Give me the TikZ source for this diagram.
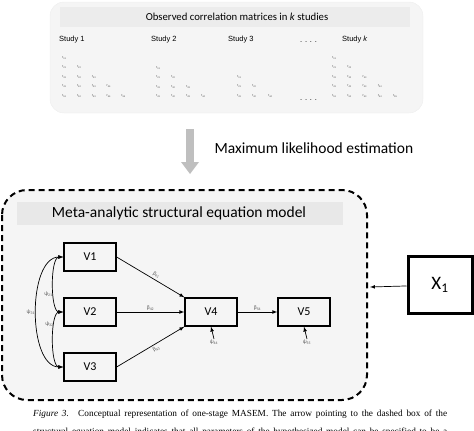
\documentclass[tikz,border=0pt]{standalone}
\usepackage{fontspec}
\setmainfont{Carlito}
\newfontfamily\arialfont{Liberation Sans}
\newfontfamily\timesfont{Liberation Serif}

\tikzset{
varbox/.style={draw, line width=1.3pt, minimum width=52pt, minimum height=28pt, font=\fontsize{12}{12}\selectfont},
coef/.style={font=\fontsize{5.5}{5.5}\selectfont, text=gray!70!black, inner sep=1pt},
rr/.style={font=\arialfont\fontsize{3.5}{4}\selectfont, text=gray!70!black, anchor=west, inner sep=0pt},
studylab/.style={font=\arialfont\fontsize{7.5}{7.5}\selectfont, anchor=base west, inner sep=0pt},
conn/.style={-latex, line width=0.7pt},
captxt/.style={font=\timesfont\fontsize{9.3}{11}\selectfont, anchor=base west, inner sep=0pt}
}

\begin{document}
\begin{tikzpicture}[x=1pt,y=-1pt]
\useasboundingbox (0,0) rectangle (474,431);
% observed correlation matrices
\filldraw[fill=gray!8, draw=gray!14, rounded corners=14pt] (50,2) rectangle (423,113);
\fill[gray!15] (60,7) rectangle (410,27);
\node (obs) at (237,17) {\fontsize{10.7}{10.7}\selectfont Observed correlation matrices in \textit{k} studies};
\node[studylab] (st1) at (59,41) {Study 1};
\node[studylab] (st2) at (151,41) {Study 2};
\node[studylab] (st3) at (228,41) {Study 3};
\node[studylab] (stk) at (342,41) {Study \textit{k}};
\node[studylab] (dots1) at (300,42) {. . . .};
\node[studylab] (dots2) at (300,100) {. . . .};
\foreach \i in {1,...,5}
  \foreach \j in {1,...,\i}
    \node[rr] (a\i\j) at ({62+14.8*(\j-1)},{58+9.5*(\i-1)}) {r\textsubscript{\i\j}};
\foreach \i in {1,...,4}
  \foreach \j in {1,...,\i}
    \node[rr] (b\i\j) at ({156+15*(\j-1)},{68+9.3*(\i-1)}) {r\textsubscript{\i\j}};
\node[rr] (c11) at (237,77) {r\textsubscript{11}};
\node[rr] (c21) at (237,86) {r\textsubscript{21}};
\node[rr] (c22) at (252,86) {r\textsubscript{22}};
\node[rr] (c41) at (237,96) {r\textsubscript{41}};
\node[rr] (c42) at (252,96) {r\textsubscript{42}};
\node[rr] (c44) at (268,96) {r\textsubscript{44}};
\foreach \i in {1,...,5}
  \foreach \j in {1,...,\i}
    \node[rr] (k\i\j) at ({332+15.2*(\j-1)},{58+9.5*(\i-1)}) {r\textsubscript{\i\j}};

% estimation step
\fill[gray!50] (186,129) rectangle (194,163);
\fill[gray!50] (181,162) -- (199,162) -- (190,174) -- cycle;
\node[anchor=west] (mle) at (211,148) {\fontsize{15.5}{15.5}\selectfont Maximum likelihood estimation};

% masem box
\filldraw[fill=gray!8, draw=black, line width=2pt, dash pattern=on 6pt off 4pt, rounded corners=25pt] (2,190) rectangle (367,400);
\fill[gray!18] (17,202) rectangle (343,225);
\node (mtitle) at (179,213.5) {\fontsize{15.5}{15.5}\selectfont Meta-analytic structural equation model};

\node[varbox] (v1) at (90,257) {V1};
\node[varbox] (v2) at (90,312) {V2};
\node[varbox] (v3) at (90,367) {V3};
\node[varbox] (v4) at (211,312) {V4};
\node[varbox] (v5) at (304,312) {V5};

\draw[conn] (v1.east) -- (v4.north west) node[coef, pos=0.55, above=1.5pt, sloped] {β\textsubscript{41}};
\draw[conn] (v2) -- (v4) node[coef, midway, above] {β\textsubscript{42}};
\draw[conn] (v3.east) -- (v4.south west) node[coef, pos=0.55, below=1pt, sloped] {β\textsubscript{43}};
\draw[conn] (v4) -- (v5) node[coef, midway, above] {β\textsubscript{54}};

\draw[latex-latex, line width=0.7pt] (v1.west) to[out=180, in=180, looseness=0.62] node[coef, pos=0.62, left] {ψ\textsubscript{21}} (v2.west);
\draw[latex-latex, line width=0.7pt] (v2.west) to[out=180, in=180, looseness=0.62] node[coef, pos=0.3, left] {ψ\textsubscript{32}} (v3.west);
\draw[latex-latex, line width=0.7pt] (v1.west) to[out=180, in=180, looseness=0.84] node[coef, midway, left] {ψ\textsubscript{31}} (v3.west);

\coordinate (e4) at (214,339);
\coordinate (e5) at (307,339);
\draw[conn] (e4) -- (v4.south);
\draw[conn] (e5) -- (v5.south);
\node[coef, below] (psi44) at (e4) {ψ\textsubscript{44}};
\node[coef, below] (psi55) at (e5) {ψ\textsubscript{55}};

% moderator
\node[draw, line width=3pt, minimum width=64pt, minimum height=57pt, font=\fontsize{19}{19}\selectfont] (x1) at (440,285) {X\textsubscript{1}};
\coordinate (boxedge) at (370,287);
\draw[conn] (x1) -- (boxedge);

% caption
\node[captxt] (cap1) at (33,416) {\makebox[414pt][s]{\textit{Figure 3.}\quad Conceptual representation of one-stage MASEM. The arrow pointing to the dashed box of the}};
\node[captxt] (cap2) at (33,434) {\makebox[414pt][s]{structural equation model indicates that all parameters of the hypothesized model can be specified to be a}};
\end{tikzpicture}
\end{document}
